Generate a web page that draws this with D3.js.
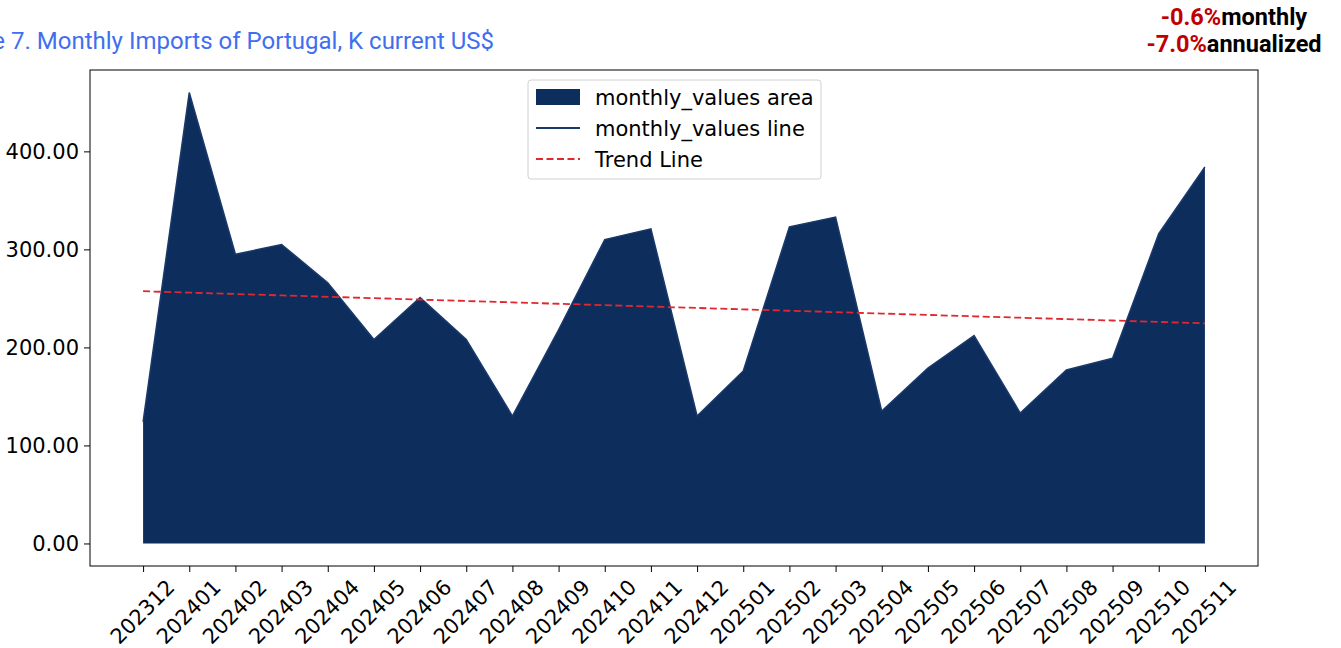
<!DOCTYPE html>
<html>
<head>
<meta charset="utf-8">
<script src="https://cdn.jsdelivr.net/npm/d3@7"></script>
<style>
  body { margin: 0; background: #fff; }
  svg { display: block; }
</style>
</head>
<body>
<svg id="chart" width="1341" height="648"></svg>
<script>
const width = 1341;
const height = 648;
const svg = d3.select('#chart');

// Data
const months = ['202312', '202401', '202402', '202403', '202404', '202405', '202406', '202407',
  '202408', '202409', '202410', '202411', '202412', '202501', '202502', '202503', '202504',
  '202505', '202506', '202507', '202508', '202509', '202510', '202511'];
const monthlyValues = [124, 460, 295, 305, 266, 208, 251, 208, 130, 218, 310, 321, 130, 176,
  323, 333, 135, 179, 212, 133, 177, 189, 316, 384];
const yTicks = [0, 100, 200, 300, 400];
const titleText = 'Figure 7. Monthly Imports of Portugal, K current US$';
const changeLines = [['-0.6%', 'monthly'], ['-7.0%', 'annualized']];

const margin = { left: 90, right: 1258, top: 70, bottom: 566 };

// Least-squares trend over the index
const n = monthlyValues.length;
const xMean = (n - 1) / 2;
const yMean = d3.mean(monthlyValues);
let num = 0, den = 0;
monthlyValues.forEach((v, i) => { num += (i - xMean) * (v - yMean); den += (i - xMean) ** 2; });
const slope = num / den;
const intercept = yMean - slope * xMean;
const trend = monthlyValues.map((v, i) => intercept + slope * i);

const x = d3.scaleLinear()
  .domain([-0.05 * (n - 1), (n - 1) * 1.05])
  .range([margin.left, margin.right]);

const yMax = d3.max(monthlyValues);
const y = d3.scaleLinear()
  .domain([-0.05 * yMax, 1.05 * yMax])
  .range([margin.bottom, margin.top]);

// Title (clipped on the left as in the source)
svg.append('text')
  .attr('x', 494)
  .attr('y', 49)
  .attr('text-anchor', 'end')
  .attr('font-family', 'Roboto')
  .attr('font-size', 24)
  .attr('fill', '#3f6ff0')
  .text(titleText);

// Change annotation
const note = svg.append('g');
changeLines.forEach((d, i) => {
  const t = note.append('text')
    .attr('x', 1234)
    .attr('y', 25 + i * 27)
    .attr('text-anchor', 'middle')
    .attr('font-family', 'Roboto')
    .attr('font-weight', 'bold')
    .attr('font-size', 23.5);
  t.append('tspan').attr('fill', '#c00000').text(d[0]);
  t.append('tspan').attr('fill', '#000').text(d[1]);
});

// Area + line
const area = d3.area()
  .x((d, i) => x(i))
  .y0(y(0))
  .y1(d => y(d));

svg.append('path')
  .datum(monthlyValues)
  .attr('d', area)
  .attr('fill', '#0d2d5d');

const line = d3.line()
  .x((d, i) => x(i))
  .y(d => y(d));

svg.append('path')
  .datum(monthlyValues)
  .attr('d', line)
  .attr('fill', 'none')
  .attr('stroke', '#1b3a6c')
  .attr('stroke-width', 1.5);

svg.append('path')
  .datum(trend)
  .attr('d', line)
  .attr('fill', 'none')
  .attr('stroke', '#e0282e')
  .attr('stroke-width', 1.8)
  .attr('stroke-dasharray', '7,3.5');

// Axes
const yAxis = d3.axisLeft(y)
  .tickValues(yTicks)
  .tickSize(6)
  .tickPadding(5)
  .tickFormat(d3.format('.2f'));

const gy = svg.append('g')
  .attr('transform', `translate(${margin.left},0)`)
  .call(yAxis);
gy.select('.domain').remove();
gy.selectAll('text')
  .attr('font-family', 'DejaVu Sans')
  .attr('font-size', 21)
  .attr('fill', '#000');

const xAxis = d3.axisBottom(x)
  .tickValues(d3.range(n))
  .tickSize(6)
  .tickFormat(i => months[i]);

const gx = svg.append('g')
  .attr('transform', `translate(0,${margin.bottom})`)
  .call(xAxis);
gx.select('.domain').remove();
// rotated labels centred on their tick, like matplotlib rotation=45
gx.selectAll('text')
  .attr('font-family', 'DejaVu Sans')
  .attr('font-size', 21)
  .attr('fill', '#000')
  .attr('text-anchor', 'middle')
  .attr('dy', null)
  .attr('y', 0)
  .attr('transform', 'translate(4,51) rotate(-45)');

// Frame
svg.append('rect')
  .attr('x', margin.left)
  .attr('y', margin.top)
  .attr('width', margin.right - margin.left)
  .attr('height', margin.bottom - margin.top)
  .attr('fill', 'none')
  .attr('stroke', '#000')
  .attr('stroke-width', 1);

// Legend
const legend = svg.append('g').attr('transform', 'translate(528,80)');
legend.append('rect')
  .attr('width', 293).attr('height', 99).attr('rx', 3)
  .attr('fill', '#fff').attr('fill-opacity', 0.8)
  .attr('stroke', '#d0d0d0');

const legendItems = [
  { label: 'monthly_values area', kind: 'area' },
  { label: 'monthly_values line', kind: 'line' },
  { label: 'Trend Line', kind: 'trend' }
];
legendItems.forEach((d, i) => {
  const row = legend.append('g').attr('transform', `translate(0,${17 + i * 31})`);
  if (d.kind === 'area') {
    row.append('rect').attr('x', 8).attr('y', -8).attr('width', 44).attr('height', 16).attr('fill', '#0d2d5d');
  } else {
    row.append('line').attr('x1', 8).attr('x2', 52).attr('y1', 0).attr('y2', 0)
      .attr('stroke', d.kind === 'line' ? '#1b3a6c' : '#e0282e')
      .attr('stroke-width', 1.8)
      .attr('stroke-dasharray', d.kind === 'trend' ? '7,3.5' : null);
  }
  row.append('text')
    .attr('x', 67).attr('y', 8)
    .attr('font-family', 'DejaVu Sans')
    .attr('font-size', 21)
    .attr('fill', '#000')
    .text(d.label);
});
</script>
</body>
</html>
